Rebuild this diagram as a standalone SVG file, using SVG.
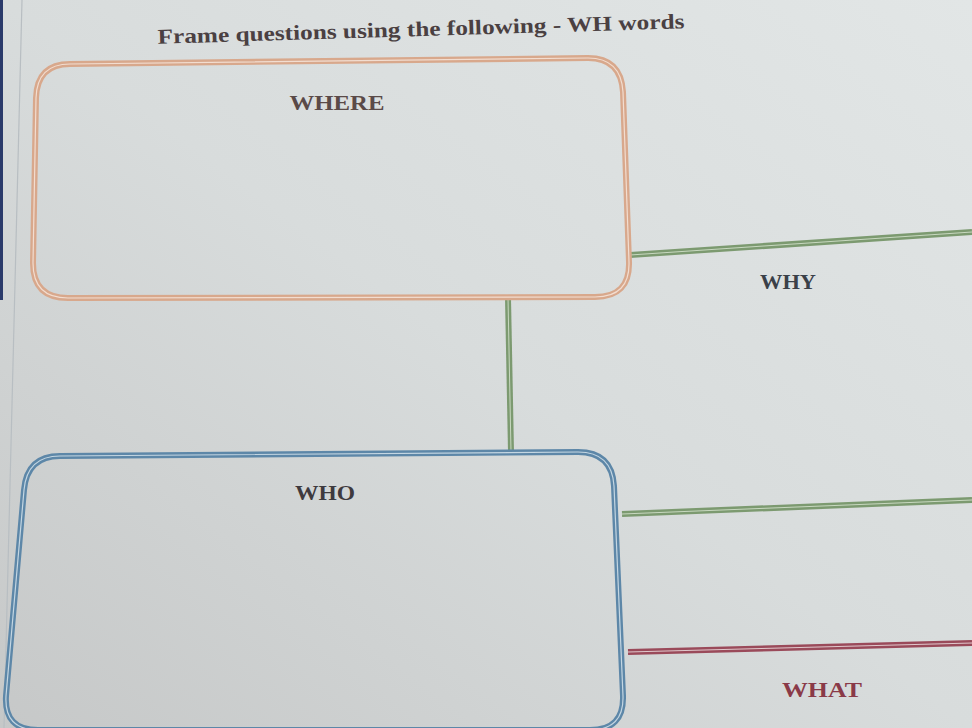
<svg xmlns="http://www.w3.org/2000/svg" width="972" height="728" viewBox="0 0 972 728">
<defs>
<linearGradient id="paper" x1="1" y1="0" x2="0" y2="1">
<stop offset="0" stop-color="#e2e6e6"/>
<stop offset="0.5" stop-color="#d8dcdc"/>
<stop offset="1" stop-color="#c6c8c8"/>
</linearGradient>
<style>
.lbl{font-family:"Liberation Serif","DejaVu Serif",serif;font-weight:bold;text-anchor:middle}
.outer{fill:none;stroke-linejoin:round}
.inner{fill:none;stroke-width:1.2;stroke-linejoin:round}
.g{stroke:#7c9a70;stroke-width:6;fill:none}
.gi{stroke:#c8d8c0;stroke-width:1;fill:none}
</style>
</defs>
<rect x="0" y="0" width="972" height="728" fill="url(#paper)"/>
<rect x="0" y="0" width="3" height="300" fill="#2a3a6a"/>
<path d="M22,0 L4,728" stroke="#b8bec2" stroke-width="1.2" fill="none"/>
<text class="lbl" x="421" y="36" font-size="21" fill="#4a4042" textLength="527" lengthAdjust="spacingAndGlyphs" transform="rotate(-1.7 421 30)">Frame questions using the following - WH words</text>

<g id="connectors">
<path class="g" d="M508,298 L511,452"/>
<path class="gi" d="M508,298 L511,452"/>
<path class="g" d="M630,255 L972,232"/>
<path class="gi" d="M630,255 L972,232"/>
<path class="g" d="M622,514 L972,500"/>
<path class="gi" d="M622,514 L972,500"/>
<path d="M628,652 L972,643" stroke="#9a4a5a" stroke-width="6" fill="none"/>
<path d="M628,652 L972,643" stroke="#e0c8cc" stroke-width="1" fill="none"/>
</g>

<g id="where">
<path class="outer" d="M70,64 L588,58 Q621,58 623,92 L629,262 Q630,297 595,297 L68,298 Q33,298 33,263 L36,98 Q37,64 70,64 Z" fill="#dde1e1" stroke="#d8a88c" stroke-width="6"/>
<path class="inner" d="M70,64 L588,58 Q621,58 623,92 L629,262 Q630,297 595,297 L68,298 Q33,298 33,263 L36,98 Q37,64 70,64 Z" stroke="#f2ddd0"/>
<text class="lbl" x="337" y="110" font-size="20" fill="#5a4a48" textLength="95" lengthAdjust="spacingAndGlyphs">WHERE</text>
</g>

<g id="who">
<path class="outer" d="M60,456 L578,452 Q612,452 614,486 L623,696 Q624,730 590,730 L38,730 Q4,730 6,696 L24,490 Q27,456 60,456 Z" fill="#d2d4d4" stroke="#5d87a8" stroke-width="6"/>
<path class="inner" d="M60,456 L578,452 Q612,452 614,486 L623,696 Q624,730 590,730 L38,730 Q4,730 6,696 L24,490 Q27,456 60,456 Z" stroke="#c4d6e2"/>
<text class="lbl" x="325" y="500" font-size="20" fill="#3e3a3e" textLength="60" lengthAdjust="spacingAndGlyphs">WHO</text>
</g>

<g id="why">
<text class="lbl" x="788" y="289" font-size="20" fill="#3a4048" textLength="56" lengthAdjust="spacingAndGlyphs">WHY</text>
</g>

<g id="what">
<text class="lbl" x="822" y="697" font-size="21" fill="#8a3a48" textLength="80" lengthAdjust="spacingAndGlyphs">WHAT</text>
</g>
</svg>
